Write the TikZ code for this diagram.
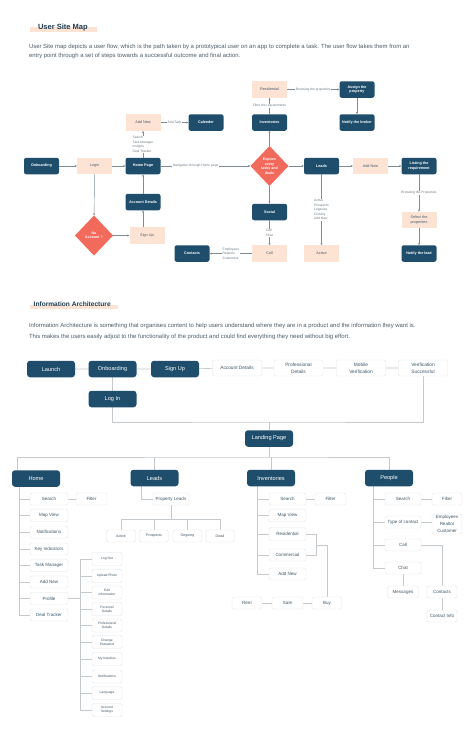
\documentclass[tikz,border=0pt]{standalone}
\usepackage{fontspec}
\setmainfont{Liberation Sans}
\usetikzlibrary{shapes.geometric,arrows.meta}
\definecolor{dkblue}{HTML}{1E4E6C}
\definecolor{peach}{HTML}{FDE3D4}
\definecolor{coral}{HTML}{F26A5B}
\definecolor{lncol}{HTML}{7F8C96}
\definecolor{ialn}{HTML}{C4C9CD}
\definecolor{pktext}{HTML}{4A5F70}
\definecolor{lbltext}{HTML}{6B7B86}
\definecolor{wbtext}{HTML}{3C5568}
\definecolor{wbdraw}{HTML}{E2E5E8}
\definecolor{paracol}{HTML}{4B5B67}
\definecolor{titlecol}{HTML}{1D3C52}
\newcommand\fz[2]{\fontsize{#1pt}{#2pt}\selectfont}
\pgfdeclarelayer{bgl}
\pgfdeclarelayer{lnl}
\pgfsetlayers{bgl,lnl,main}
\tikzset{
 every node/.style={inner sep=0pt, outer sep=0pt},
 dk/.style={rectangle, rounded corners=2.2pt, fill=dkblue, text=white, font=\fz{3.7}{4.8}\bfseries, minimum width=35pt, minimum height=16.5pt, align=center},
 pk/.style={rectangle, fill=peach, text=pktext, font=\fz{3.8}{4.8}, minimum width=35pt, minimum height=16.5pt, align=center},
 dia/.style={diamond, fill=coral, text=white, font=\fz{3.6}{4.5}\bfseries, minimum width=38pt, minimum height=40pt, align=center},
 arr/.style={draw=lncol, line width=0.45pt, -{Stealth[length=2.4pt,width=2pt]}},
 lbl/.style={fill=white, text=lbltext, font=\fz{3.3}{4.5}, inner sep=0.6pt, align=left},
 iadk/.style={rectangle, rounded corners=3pt, fill=dkblue, text=white, font=\fz{5.6}{6.6}, minimum width=48pt, minimum height=16.5pt},
 wbt/.style={rectangle, rounded corners=2pt, fill=white, draw=wbdraw, line width=0.4pt, text=wbtext, font=\fz{4.8}{6.8}, minimum width=49pt, minimum height=16pt, align=center},
 wb/.style={rectangle, rounded corners=2pt, fill=white, draw=wbdraw, line width=0.4pt, text=wbtext, font=\fz{4.5}{5.5}, minimum width=38pt, minimum height=12pt, align=center},
 wbs/.style={rectangle, rounded corners=1.5pt, fill=white, draw=wbdraw, line width=0.4pt, text=wbtext, font=\fz{3.3}{4.1}, minimum width=30pt, minimum height=13pt, align=center},
 wbl/.style={rectangle, rounded corners=1.5pt, fill=white, draw=wbdraw, line width=0.4pt, text=wbtext, font=\fz{3.6}{4.4}, minimum width=29pt, minimum height=12pt, align=center},
 ln/.style={draw=ialn, line width=0.6pt},
 ttl/.style={anchor=base west, text=titlecol},
 para/.style={anchor=base west, text=paracol, font=\fz{5.95}{7}},
}
\begin{document}
\begin{tikzpicture}[x=1pt,y=-1pt]
\useasboundingbox (0,0) rectangle (474,732);
\begin{pgfonlayer}{bgl}
\fill[white] (0,0) rectangle (474,732);
\fill[peach] (30,27) rectangle (97,31.5);
\fill[peach] (30,305.3) rectangle (118,308.7);
\end{pgfonlayer}

% ---------- headings ----------
\node[ttl, font=\fz{7.5}{9}\bfseries] (t1) at (38,29) {User Site Map};
\node[para] (p1) at (29,48) {User Site map depicts a user flow, which is the path taken by a prototypical user on an app to complete a task. The user flow takes them from an};
\node[para] (p2) at (29,57.5) {entry point through a set of steps towards a successful outcome and final action.};

\node[ttl, font=\fz{6.6}{8}\bfseries] (t2) at (33.7,306.5) {Information Architecture};
\node[para] (p3) at (29,327.5) {Information Architecture is something that organises content to help users understand where they are in a product and the information they want is.};
\node[para] (p4) at (29,338) {This makes the users easily adjust to the functionality of the product and could find everything they need without big effort.};

% ---------- user site map ----------
\node[dk] (onb) at (41.5,166) {Onboarding};
\node[pk] (login) at (94.5,166) {Login};
\node[dk] (home) at (143,166) {Home Page};
\node[pk] (addnew1) at (143,122.5) {Add New};
\node[dk] (cal) at (206,122.5) {Calender};
\node[dk] (acc) at (143,202) {Account Details};
\node[pk] (signup) at (147,235.5) {Sign Up};
\node[dia] (noacc) at (94,235.5) {No\\Account ?};
\node[dk] (contacts) at (192,253.5) {Contacts};
\node[pk] (resi) at (269.5,89.5) {Residential};
\node[dk] (assign) at (357,89.5) {Assign the\\property};
\node[dk] (broker) at (357,122.5) {Notify the broker};
\node[dk] (inv) at (269.5,122.5) {Inventories};
\node[dia] (explore) at (269.5,166) {Explore\\every\\tasks and\\deals};
\node[dk] (leads) at (321.5,166) {Leads};
\node[pk] (addnew2) at (370.5,166) {Add New};
\node[dk] (listing) at (419,166) {Listing the\\requirement};
\node[pk] (select) at (419,220) {Select the\\properties};
\node[dk] (notlead) at (419,253.5) {Notify the lead};
\node[dk] (social) at (269.5,212) {Social};
\node[pk] (call) at (269.5,253.5) {Call};
\node[pk] (active) at (321.5,253.5) {Active};

\draw[arr] (onb) -- (login);
\draw[arr] (login) -- (home);
\draw[arr] (home) -- node[lbl]{Search\\Task Manager\\Insights\\Deal Tracker} (addnew1);
\draw[arr] (addnew1) -- node[lbl]{Add Task} (cal);
\draw[arr] (home) -- node[lbl, pos=0.39]{Navigation through Home page} (explore);
\draw[arr] (explore) -- (inv);
\draw[arr] (inv) -- node[lbl]{Filter the requirements} (resi);
\draw[arr] (resi) -- node[lbl]{Browsing the properties} (assign);
\draw[arr] (assign) -- (broker);
\draw[arr] (explore) -- (leads);
\draw[arr] (leads) -- (addnew2);
\draw[arr] (addnew2) -- (listing);
\draw[arr] (listing) -- node[lbl]{Browsing the Properties} (select);
\draw[arr] (select) -- (notlead);
\draw[arr] (explore) -- (social);
\draw[arr] (social) -- node[lbl]{Call\\Chat} (call);
\draw[arr] (call) -- node[lbl]{Employees\\Realtors\\Customers} (contacts);
\draw[arr] (leads) -- node[lbl]{Active\\Prospects\\Legacies\\Closing\\Add New} (active);
\draw[arr] (login) -- (noacc);
\draw[arr] (noacc) -- (signup);
\draw[arr] (signup.north -| acc) -- (acc);
\draw[arr] (acc) -- (home);

% ---------- information architecture ----------
\node[iadk] (launch) at (51,369) {Launch};
\node[iadk] (onb2) at (112.5,369) {Onboarding};
\node[iadk] (signup2) at (175,369) {Sign Up};
\node[wbt] (accd) at (237,368) {Account Details};
\node[wbt] (prof) at (298.5,368) {Professional\\Details};
\node[wbt] (mob) at (361,368) {Mobile\\Verification};
\node[wbt] (ver) at (423,368) {Verification\\Successful};
\node[iadk] (login2) at (112.5,399) {Log In};
\node[iadk] (lp) at (269,438.5) {Landing Page};
\coordinate (top) at (269,422);
\coordinate (bus) at (269,457);

\node[iadk] (home2) at (36,478.5) {Home};
\node[iadk] (leads2) at (154.5,478) {Leads};
\node[iadk] (inv2) at (271,478) {Inventories};
\node[iadk] (people) at (389,478) {People};

% home
\node[wb] (hsearch) at (49,499) {Search};
\node[wb] (hmap) at (49,515.5) {Map View};
\node[wb] (hnotif) at (49,532) {Notifications};
\node[wb] (hkey) at (49,549) {Key Indicators};
\node[wb] (htask) at (49,565.5) {Task Manager};
\node[wb] (hadd) at (49,582) {Add New};
\node[wb] (hprof) at (49,598.5) {Profile};
\node[wb] (hdeal) at (49,615) {Deal Tracker};
\node[wb, minimum width=31pt] (hfilter) at (91.5,499) {Filter};
\coordinate (ht) at (19,478.5);
\coordinate (pt) at (80.7,598.5);
\node[wbs] (s1) at (107,559) {Log Out};
\node[wbs] (s2) at (107,576) {Upload Photo};
\node[wbs] (s3) at (107,592.5) {Edit\\Information};
\node[wbs] (s4) at (107,609) {Personal\\Details};
\node[wbs] (s5) at (107,625.5) {Professional\\Details};
\node[wbs] (s6) at (107,642) {Change\\Password};
\node[wbs] (s7) at (107,659) {My Inquiries};
\node[wbs] (s8) at (107,676.5) {Notifications};
\node[wbs] (s9) at (107,693) {Language};
\node[wbs] (s10) at (107,710) {Account\\Settings};

% leads
\node[wb, minimum width=36pt] (pleads) at (171,499) {Property Leads};
\coordinate (lb) at (171,519);
\coordinate (lt) at (141,478);
\node[wbl] (lactive) at (121,536) {Active};
\node[wbl] (lpros) at (154,536) {Prospects};
\node[wbl] (longo) at (187.5,536) {Ongoing};
\node[wbl] (ldead) at (220,536) {Dead};

% inventories
\coordinate (it) at (257,478);
\node[wb, minimum width=37pt] (isearch) at (287.5,499) {Search};
\node[wb, minimum width=37pt] (imap) at (287.5,515.5) {Map View};
\node[wb, minimum width=37pt, minimum height=13pt] (iresi) at (287.5,534) {Residential};
\node[wb, minimum width=37pt] (icomm) at (287.5,555) {Commercial};
\node[wb, minimum width=37pt] (iadd) at (287.5,574) {Add New};
\node[wb, minimum width=31pt] (ifilter) at (330.5,499) {Filter};
\coordinate (rc) at (316,545);
\node[wb, minimum width=30pt] (rent) at (247,603) {Rent};
\node[wb, minimum width=31pt] (sale) at (287.5,603) {Sale};
\node[wb, minimum width=30pt] (buy) at (327,603) {Buy};

% people
\coordinate (pp) at (373,478);
\node[wb, minimum width=36pt] (psearch) at (403,499) {Search};
\node[wb, minimum width=36pt] (ptype) at (403,522) {Type of contact};
\node[wb, minimum width=36pt] (pcall) at (403,545) {Call};
\node[wb, minimum width=36pt] (pchat) at (403,568) {Chat};
\node[wb, minimum width=30pt] (pfilter) at (447,499) {Filter};
\node[wb, minimum width=30pt, minimum height=20pt, font=\fz{4.5}{6.8}] (pemp) at (447,524) {Employees\\Realtor\\Customer};
\node[wb, minimum width=31pt] (pmsg) at (403,592) {Messages};
\node[wb, minimum width=30pt] (pcont) at (442,592) {Contacts};
\node[wb, minimum width=30pt] (pcinfo) at (442,616) {Contact Info};

\begin{pgfonlayer}{lnl}
\draw[ln] (launch) -- (onb2) -- (signup2) -- (accd) -- (prof) -- (mob) -- (ver);
\draw[ln] (onb2) |- (top) -| (ver);
\draw[ln] (top) -- (lp) -- (bus);
\draw[ln] ([xshift=-19pt]home2.center) |- (bus) -| (people);
\draw[ln] (leads2) -- (leads2 |- bus);
\draw[ln] (inv2) -- (inv2 |- bus);
\foreach \n in {hsearch,hmap,hnotif,hkey,htask,hadd,hprof,hdeal} \draw[ln] (ht) |- (\n);
\draw[ln] (hsearch) -- (hfilter);
\draw[ln] (hprof) -- (pt);
\foreach \n in {s1,s2,s3,s4,s5,s6,s7,s8,s9,s10} \draw[ln] (pt) |- (\n);
\draw[ln] (lt) |- (pleads);
\draw[ln] (pleads) -- (lb);
\foreach \n in {lactive,lpros,longo,ldead} \draw[ln] (lb) -| (\n);
\foreach \n in {isearch,imap,iresi,icomm,iadd} \draw[ln] (it) |- (\n);
\draw[ln] (isearch) -- (ifilter);
\draw[ln] (iresi) -| (rc);
\draw[ln] (icomm) -| (rc);
\draw[ln] (rc) -| (buy);
\draw[ln] (rent) -- (sale) -- (buy);
\foreach \n in {psearch,ptype,pcall,pchat} \draw[ln] (pp) |- (\n);
\draw[ln] (psearch) -- (pfilter);
\draw[ln] (ptype) -- (ptype -| pemp);
\draw[ln] (pcall) -| (pcont);
\draw[ln] (pcont) -- (pcinfo);
\draw[ln] (pchat) -- (pmsg);
\end{pgfonlayer}
\end{tikzpicture}
\end{document}
